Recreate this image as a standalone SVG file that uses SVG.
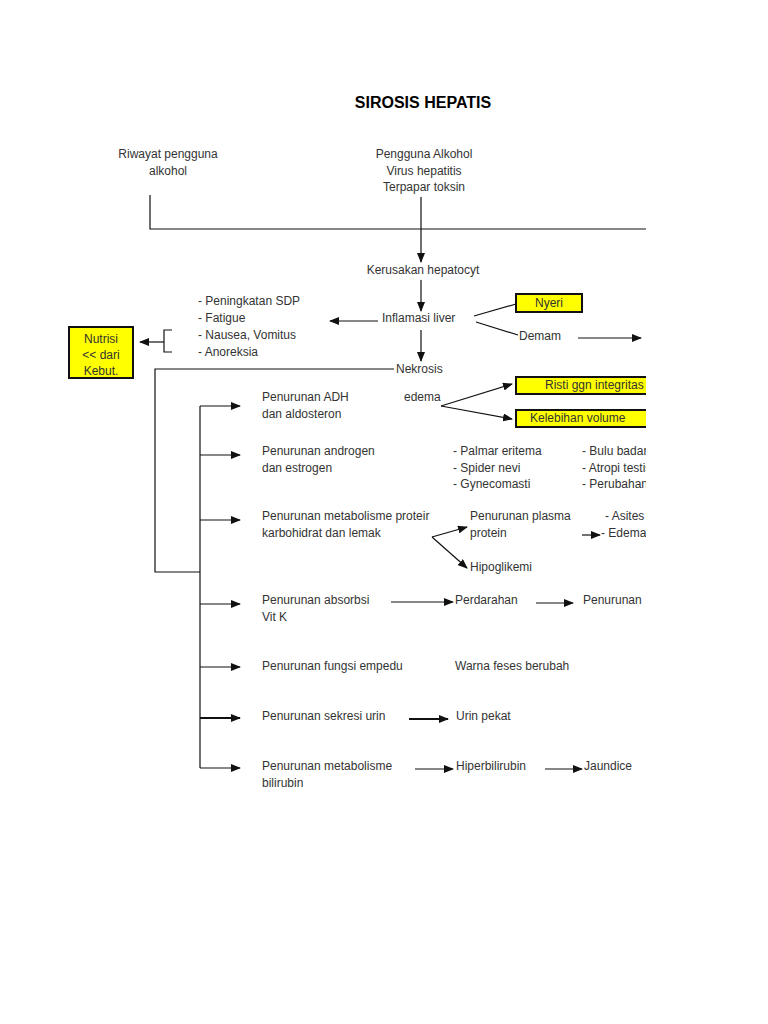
<svg xmlns="http://www.w3.org/2000/svg" width="768" height="1024" viewBox="0 0 768 1024">
<style>
text{font-family:"Liberation Sans",Arial,sans-serif;font-size:12px;fill:#333}
.c{text-anchor:middle}
.ln{stroke:#111;stroke-width:1.2;fill:none}
.th{stroke:#111;stroke-width:2;fill:none}
.box{fill:#ffff00;stroke:#111;stroke-width:2}
</style>
<defs>
<marker id="a" markerWidth="10" markerHeight="8" refX="9" refY="4" orient="auto" markerUnits="userSpaceOnUse"><path d="M0,0L10,4L0,8z" fill="#111"/></marker>
<clipPath id="cp"><rect x="0" y="0" width="646" height="1024"/></clipPath>
</defs>
<rect width="768" height="1024" fill="#fff"/>
<g clip-path="url(#cp)">
<text x="423" y="108" class="c" style="font-weight:bold;font-size:16px;fill:#000">SIROSIS HEPATIS</text>
<g id="riwayat"><text x="168" y="158" class="c">Riwayat pengguna</text><text x="168" y="175" class="c">alkohol</text></g>
<g id="penyebab"><text x="424" y="158" class="c">Pengguna Alkohol</text><text x="424" y="175" class="c">Virus hepatitis</text><text x="424" y="191" class="c">Terpapar toksin</text></g>
<g id="kerusakan"><text x="423" y="274" class="c">Kerusakan hepatocyt</text></g>
<g id="inflamasi"><text x="382" y="322">Inflamasi liver</text></g>
<g id="gejala"><text x="198" y="305">- Peningkatan SDP</text><text x="198" y="322">- Fatigue</text><text x="198" y="339">- Nausea, Vomitus</text><text x="198" y="356">- Anoreksia</text></g>
<g id="nutrisi"><rect class="box" x="69" y="327" width="64" height="51"/><text x="101" y="343" class="c">Nutrisi</text><text x="101" y="359" class="c">&lt;&lt; dari</text><text x="101" y="375" class="c">Kebut.</text></g>
<g id="nyeri"><rect class="box" x="516" y="294" width="66" height="18"/><text x="549" y="307" class="c">Nyeri</text></g>
<g id="demam"><text x="519" y="340">Demam</text></g>
<g id="nekrosis"><text x="396" y="373">Nekrosis</text></g>
<g id="adh"><text x="262" y="401">Penurunan ADH</text><text x="262" y="418">dan aldosteron</text><text x="404" y="401">edema</text></g>
<g id="risti"><rect class="box" x="516" y="377" width="140" height="17"/><text x="545" y="389">Risti ggn integritas</text></g>
<g id="kelebihan"><rect class="box" x="516" y="410" width="140" height="17"/><text x="530" y="422">Kelebihan volume</text></g>
<g id="androgen"><text x="262" y="455">Penurunan androgen</text><text x="262" y="472">dan estrogen</text>
<text x="453" y="455">- Palmar eritema</text><text x="453" y="472">- Spider nevi</text><text x="453" y="488">- Gynecomasti</text>
<text x="582" y="455">- Bulu badan</text><text x="582" y="472">- Atropi testis</text><text x="582" y="488">- Perubahan</text></g>
<g id="metabolisme"><text x="262" y="520">Penurunan metabolisme proteir</text><text x="262" y="537">karbohidrat dan lemak</text>
<text x="470" y="520">Penurunan plasma</text><text x="470" y="537">protein</text><text x="470" y="571">Hipoglikemi</text>
<text x="605" y="520">- Asites</text><text x="601" y="537">- Edema</text></g>
<g id="absorbsi"><text x="262" y="604">Penurunan absorbsi</text><text x="262" y="621">Vit K</text><text x="455" y="604">Perdarahan</text><text x="583" y="604">Penurunan</text></g>
<g id="empedu"><text x="262" y="670">Penurunan fungsi empedu</text><text x="455" y="670">Warna feses berubah</text></g>
<g id="urin"><text x="262" y="720">Penurunan sekresi urin</text><text x="456" y="720">Urin pekat</text></g>
<g id="bilirubin"><text x="262" y="770">Penurunan metabolisme</text><text x="262" y="787">bilirubin</text><text x="456" y="770">Hiperbilirubin</text><text x="584" y="770">Jaundice</text></g>
<g id="connectors">
<path class="ln" d="M150,195V229H646M421,197V229"/>
<path class="ln" d="M421,229V262" marker-end="url(#a)"/>
<path class="ln" d="M421,280V311" marker-end="url(#a)"/>
<path class="ln" d="M378,321H330" marker-end="url(#a)"/>
<path class="ln" d="M172,330H164V352H172"/>
<path class="ln" d="M164,342H140" marker-end="url(#a)"/>
<path class="ln" d="M474,316L516,304M476,322L518,335"/>
<path class="ln" d="M578,338H641" marker-end="url(#a)"/>
<path class="ln" d="M421,330V361" marker-end="url(#a)"/>
<path class="ln" d="M394,369H155V572H200M200,406V768"/>
<path class="ln" d="M200,406H240" marker-end="url(#a)"/>
<path class="ln" d="M200,455H240" marker-end="url(#a)"/>
<path class="ln" d="M200,520H240" marker-end="url(#a)"/>
<path class="ln" d="M200,604H240" marker-end="url(#a)"/>
<path class="ln" d="M200,667H240" marker-end="url(#a)"/>
<path class="th" d="M200,718H240" marker-end="url(#a)"/>
<path class="ln" d="M200,768H240" marker-end="url(#a)"/>
<path class="ln" d="M441,406L512,384" marker-end="url(#a)"/>
<path class="ln" d="M441,406L512,419" marker-end="url(#a)"/>
<path class="ln" d="M432,537L467,527" marker-end="url(#a)"/>
<path class="ln" d="M432,537L467,568" marker-end="url(#a)"/>
<path class="ln" d="M582,535H600" marker-end="url(#a)"/>
<path class="ln" d="M391,602H453" marker-end="url(#a)"/>
<path class="ln" d="M536,603H573" marker-end="url(#a)"/>
<path class="th" d="M409,719H448" marker-end="url(#a)"/>
<path class="ln" d="M415,769H453" marker-end="url(#a)"/>
<path class="ln" d="M545,769H582" marker-end="url(#a)"/>
</g>
</g>
</svg>
